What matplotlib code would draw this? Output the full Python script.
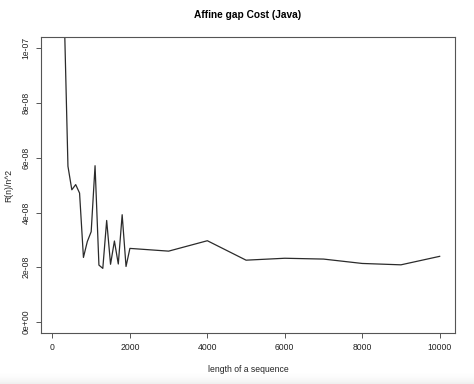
import numpy as np
import matplotlib
matplotlib.use('Agg')
import matplotlib.pyplot as plt

# sequence length vs R(n)/n^2
lengths = [100, 200, 300, 400, 500, 600, 700, 800, 900, 1000,
           1100, 1200, 1300, 1400, 1500, 1600, 1700, 1800, 1900, 2000,
           3000, 4000, 5000, 6000, 7000, 8000, 9000, 10000]
ratio = [3.0e-7, 1.6e-7, 1.15e-7, 5.69e-8, 4.83e-8, 5.02e-8, 4.71e-8, 2.36e-8, 2.94e-8, 3.30e-8,
         5.71e-8, 2.08e-8, 1.96e-8, 3.71e-8, 2.11e-8, 2.96e-8, 2.12e-8, 3.92e-8, 2.03e-8, 2.69e-8,
         2.59e-8, 2.97e-8, 2.26e-8, 2.33e-8, 2.30e-8, 2.14e-8, 2.09e-8, 2.40e-8]
xticks = [0, 2000, 4000, 6000, 8000, 10000]
yticks = [0, 2e-8, 4e-8, 6e-8, 8e-8, 1e-7]
ytick_labels = ['0e+00', '2e-08', '4e-08', '6e-08', '8e-08', '1e-07']

plt.rcParams['font.family'] = ['Liberation Sans', 'DejaVu Sans']

fig = plt.figure(figsize=(4.74, 3.84), dpi=100)

# faint window shadow at the bottom of the screenshot
sh = fig.add_axes([0, 0, 1, 14 / 384])
t = np.linspace(0, 1, 40) ** 2
grad = (1.0 - 0.06 * t).reshape(-1, 1)
sh.imshow(grad, cmap='gray', vmin=0, vmax=1, aspect='auto', extent=[0, 1, 0, 1])
sh.axis('off')

ax = fig.add_axes([41 / 474, 51 / 384, 414 / 474, 295.7 / 384])
ax.plot(lengths, ratio, color='#2b2b2b', linewidth=0.9)

# R style 4% axis expansion
lo, hi = min(lengths), max(lengths)
pad = 0.04 * (hi - lo)
ax.set_xlim(lo - pad, hi + pad)
ylo, yhi = 0, 1e-7
ax.set_ylim(ylo - 0.04 * (yhi - ylo), yhi + 0.04 * (yhi - ylo))

ax.set_xticks(xticks)
ax.set_xticklabels([str(v) for v in xticks], fontsize=6.2, color='#222222')
ax.set_yticks(yticks)
ax.set_yticklabels(ytick_labels, fontsize=6.2, rotation=90, va='center', color='#222222')
ax.tick_params(direction='out', length=3.5, width=0.7, color='#555555', pad=4)

for s in ax.spines.values():
    s.set_color('#555555')
    s.set_linewidth(0.8)

ax.set_title('Affine gap Cost (Java)', fontsize=7.3, fontweight='bold', pad=14)
ax.set_xlabel('length of a sequence', fontsize=6.2, labelpad=9, color='#222222')
ax.set_ylabel('R(n)/n^2', fontsize=6.2, labelpad=6, color='#222222')

fig.savefig('out.png', dpi=100)
